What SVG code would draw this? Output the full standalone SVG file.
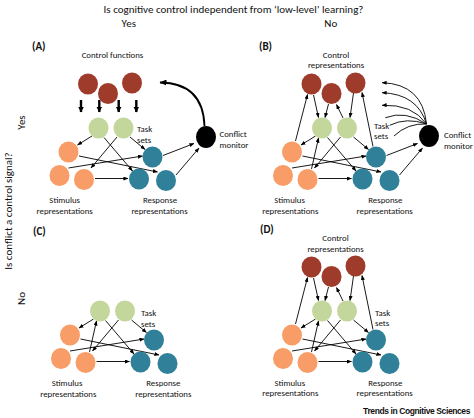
<svg xmlns="http://www.w3.org/2000/svg" width="474" height="418" viewBox="0 0 474 418">
<style>
text{font-family:Carlito,Lato,"Liberation Sans",sans-serif;fill:#111}
.t{font-size:11px}
.l{font-size:8.8px}
.m{text-anchor:middle}
.p{font-size:11px;font-weight:bold}
.br{fill:#9e3b2a}
.gr{fill:#c3d69b}
.or{fill:#f89d68}
.te{fill:#2f8098}
.k{fill:#000}
.c{stroke:#000;stroke-width:0.9;fill:none;marker-end:url(#ah)}
.cn{stroke:#000;stroke-width:0.9;fill:none}
.cb{stroke:#000;stroke-width:2.4;fill:none;marker-end:url(#ahb)}
.cc{stroke:#000;stroke-width:1.8;fill:none;marker-end:url(#ahc)}
</style>
<defs>
<marker id="ah" markerWidth="5" markerHeight="4" refX="4.6" refY="2" orient="auto" markerUnits="userSpaceOnUse"><path d="M0,0 L5,2 L0,4 z" fill="#000"/></marker>
<marker id="ahb" markerWidth="6" markerHeight="6" refX="5.5" refY="3" orient="auto" markerUnits="userSpaceOnUse"><path d="M0,0 L6,3 L0,6 z" fill="#000"/></marker>
<marker id="ahc" markerWidth="7" markerHeight="6" refX="6.5" refY="3" orient="auto" markerUnits="userSpaceOnUse"><path d="M0,0 L7,3 L0,6 z" fill="#000"/></marker>
</defs>
<rect width="474" height="418" fill="#fff"/>

<g id="headers">
<text class="t m" x="233.5" y="12.7">Is cognitive control independent from ‘low-level’ learning?</text>
<text class="t m" x="128.8" y="27.3">Yes</text>
<text class="t m" x="330.8" y="27.3">No</text>
<text class="t m" transform="translate(11.7,211) rotate(-90)">Is conflict a control signal?</text>
<text class="t m" transform="translate(25,122.5) rotate(-90)">Yes</text>
<text class="t m" transform="translate(25,298.5) rotate(-90)">No</text>
<text x="470" y="414" text-anchor="end" style="font-family:'Liberation Sans',sans-serif;font-size:8.5px;font-weight:bold;letter-spacing:-0.4px">Trends in Cognitive Sciences</text>
</g>

<!-- Panel A -->
<g id="panel-A">
<text class="p" x="32" y="50">(A)</text>
<text class="l m" x="112.5" y="58">Control functions</text>
<text class="l" x="137" y="132.3">Task</text>
<text class="l" x="137" y="142.7">sets</text>
<text class="l" x="219.5" y="136.5">Conflict</text>
<text class="l" x="219.5" y="147.5">monitor</text>
<text class="l m" x="64.7" y="202.7">Stimulus</text>
<text class="l m" x="64.7" y="214">representations</text>
<text class="l m" x="160" y="202.7">Response</text>
<text class="l m" x="159.5" y="214">representations</text>
<g id="A-connectors">
<path class="cb" d="M81,100 V112"/>
<path class="cb" d="M99.3,100 V112"/>
<path class="cb" d="M118.7,100 V112"/>
<path class="cb" d="M136.3,100 V112"/>
<path class="c" d="M92,136 L77.5,145"/>
<path class="c" d="M104,137.5 L132.5,171"/>
<path class="c" d="M117,137 L91,168"/>
<path class="c" d="M130,137 L145,149.5"/>
<path class="c" d="M79,156 L157.5,172"/>
<path class="c" d="M68.5,168 L142.5,156"/>
<path class="c" d="M95,178.5 L128,178.5"/>
<path class="c" d="M163,155.5 L194,143.5"/>
<path class="c" d="M176,175 L199,148"/>
<path class="cc" d="M204.5,126 Q203,83 160,82.5"/>
</g>
<g id="A-ctrl1"><ellipse class="br" cx="88" cy="84" rx="10" ry="10.5"/></g>
<g id="A-ctrl2"><ellipse class="br" cx="108" cy="93.5" rx="10" ry="10.5"/></g>
<g id="A-ctrl3"><ellipse class="br" cx="132" cy="83" rx="10" ry="10.5"/></g>
<g id="A-task1"><ellipse class="gr" cx="98.5" cy="128" rx="10" ry="10.5"/></g>
<g id="A-task2"><ellipse class="gr" cx="123.5" cy="128" rx="10" ry="10.5"/></g>
<g id="A-stim1"><ellipse class="or" cx="68.5" cy="152" rx="10" ry="10.5"/></g>
<g id="A-stim2"><ellipse class="or" cx="59.5" cy="175.5" rx="10" ry="10.5"/></g>
<g id="A-stim3"><ellipse class="or" cx="84" cy="179.5" rx="10" ry="10.5"/></g>
<g id="A-resp1"><ellipse class="te" cx="152.5" cy="157" rx="10" ry="10.5"/></g>
<g id="A-resp2"><ellipse class="te" cx="139" cy="179" rx="10" ry="10.5"/></g>
<g id="A-resp3"><ellipse class="te" cx="166" cy="180.5" rx="10" ry="10.5"/></g>
<g id="A-monitor"><ellipse class="k" cx="206" cy="137" rx="10" ry="11"/></g>
</g>

<!-- Panel B -->
<g id="panel-B">
<text class="p" x="259" y="50">(B)</text>
<text class="l m" x="336" y="57.5">Control</text>
<text class="l m" x="336" y="68">representations</text>
<text class="l" x="374" y="129">Task</text>
<text class="l" x="374" y="139.3">sets</text>
<text class="l" x="444" y="137.5">Conflict</text>
<text class="l" x="444" y="148.5">monitor</text>
<text class="l m" x="289.5" y="202.7">Stimulus</text>
<text class="l m" x="290.3" y="214">representations</text>
<text class="l m" x="385.3" y="202.7">Response</text>
<text class="l m" x="384.7" y="214">representations</text>
<g transform="translate(223.5,0)">
<g id="B-connectors">
<path class="c" d="M92,136 L77.5,145"/>
<path class="c" d="M104,137.5 L132.5,171"/>
<path class="c" d="M117,137 L91,168"/>
<path class="c" d="M130,137 L145,149.5"/>
<path class="c" d="M79,156 L157.5,172"/>
<path class="c" d="M68.5,168 L142.5,156"/>
<path class="c" d="M95,178.5 L128,178.5"/>
<path class="c" d="M88,169 L95,138"/>
<path class="c" d="M72,141 L84,94.5"/>
<path class="c" d="M90,95 L95,117.5"/>
<path class="c" d="M105,104 L101.5,117.5"/>
<path class="c" d="M119.5,118 L113,104.5"/>
<path class="c" d="M130,93 L126.5,117.5"/>
<path class="c" d="M149.5,146.5 L138.5,92.5"/>
<path class="c" d="M163,155.5 L194,143.5"/>
<path class="c" d="M176,175 L199,148"/>
<path class="c" d="M203,124 Q199,84 158.5,82.7"/>
<path class="c" d="M203,124 Q194,94 158.5,92.7"/>
<path class="c" d="M203,124 Q189,104 158.5,105.3"/>
<path class="cn" d="M203,124 Q182,110 161.8,117.7"/>
<path class="cn" d="M203,124 Q183,117 166.2,125.3"/>
<path class="cn" d="M203,124 Q184,123 170.5,136"/>
</g>
<g id="B-ctrl1"><ellipse class="br" cx="88" cy="84" rx="10" ry="10.5"/></g>
<g id="B-ctrl2"><ellipse class="br" cx="108" cy="93.5" rx="10" ry="10.5"/></g>
<g id="B-ctrl3"><ellipse class="br" cx="132" cy="83" rx="10" ry="10.5"/></g>
<g id="B-task1"><ellipse class="gr" cx="98.5" cy="128" rx="10" ry="10.5"/></g>
<g id="B-task2"><ellipse class="gr" cx="123.5" cy="128" rx="10" ry="10.5"/></g>
<g id="B-stim1"><ellipse class="or" cx="68.5" cy="152" rx="10" ry="10.5"/></g>
<g id="B-stim2"><ellipse class="or" cx="59.5" cy="175.5" rx="10" ry="10.5"/></g>
<g id="B-stim3"><ellipse class="or" cx="84" cy="179.5" rx="10" ry="10.5"/></g>
<g id="B-resp1"><ellipse class="te" cx="152.5" cy="157" rx="10" ry="10.5"/></g>
<g id="B-resp2"><ellipse class="te" cx="139" cy="179" rx="10" ry="10.5"/></g>
<g id="B-resp3"><ellipse class="te" cx="166" cy="180.5" rx="10" ry="10.5"/></g>
<g id="B-monitor"><ellipse class="k" cx="205.5" cy="136" rx="10" ry="11"/></g>
</g>
</g>

<!-- Panel C -->
<g id="panel-C">
<text class="p" x="33" y="235">(C)</text>
<text class="l" x="141" y="316">Task</text>
<text class="l" x="141" y="327">sets</text>
<text class="l m" x="67" y="386">Stimulus</text>
<text class="l m" x="68.3" y="396.5">representations</text>
<text class="l m" x="163.3" y="386">Response</text>
<text class="l m" x="163.3" y="396.5">representations</text>
<g transform="translate(1.5,183)">
<g id="C-connectors">
<path class="c" d="M92,136 L77.5,145"/>
<path class="c" d="M104,137.5 L132.5,171"/>
<path class="c" d="M117,137 L91,168"/>
<path class="c" d="M130,137 L145,149.5"/>
<path class="c" d="M79,156 L157.5,172"/>
<path class="c" d="M68.5,168 L142.5,156"/>
<path class="c" d="M95,178.5 L128,178.5"/>
<path class="c" d="M88,169 L95,138"/>
</g>
<g id="C-task1"><ellipse class="gr" cx="98.5" cy="128" rx="10" ry="10.5"/></g>
<g id="C-task2"><ellipse class="gr" cx="123.5" cy="128" rx="10" ry="10.5"/></g>
<g id="C-stim1"><ellipse class="or" cx="68.5" cy="152" rx="10" ry="10.5"/></g>
<g id="C-stim2"><ellipse class="or" cx="59.5" cy="175.5" rx="10" ry="10.5"/></g>
<g id="C-stim3"><ellipse class="or" cx="84" cy="179.5" rx="10" ry="10.5"/></g>
<g id="C-resp1"><ellipse class="te" cx="152.5" cy="157" rx="10" ry="10.5"/></g>
<g id="C-resp2"><ellipse class="te" cx="139" cy="179" rx="10" ry="10.5"/></g>
<g id="C-resp3"><ellipse class="te" cx="166" cy="180.5" rx="10" ry="10.5"/></g>
</g>
</g>

<!-- Panel D -->
<g id="panel-D">
<text class="p" x="260" y="233">(D)</text>
<text class="l m" x="335.5" y="241">Control</text>
<text class="l m" x="335.5" y="251.5">representations</text>
<text class="l" x="375" y="315.7">Task</text>
<text class="l" x="375" y="326">sets</text>
<text class="l m" x="289.8" y="386">Stimulus</text>
<text class="l m" x="290.3" y="396">representations</text>
<text class="l m" x="385.3" y="386">Response</text>
<text class="l m" x="384.7" y="396">representations</text>
<g transform="translate(223.5,183)">
<g id="D-connectors">
<path class="c" d="M92,136 L77.5,145"/>
<path class="c" d="M104,137.5 L132.5,171"/>
<path class="c" d="M117,137 L91,168"/>
<path class="c" d="M130,137 L145,149.5"/>
<path class="c" d="M79,156 L157.5,172"/>
<path class="c" d="M68.5,168 L142.5,156"/>
<path class="c" d="M95,178.5 L128,178.5"/>
<path class="c" d="M88,169 L95,138"/>
<path class="c" d="M72,141 L84,94.5"/>
<path class="c" d="M90,95 L95,117.5"/>
<path class="c" d="M105,104 L101.5,117.5"/>
<path class="c" d="M119.5,118 L113,104.5"/>
<path class="c" d="M130,93 L126.5,117.5"/>
<path class="c" d="M149.5,146.5 L138.5,92.5"/>
</g>
<g id="D-ctrl1"><ellipse class="br" cx="88" cy="84" rx="10" ry="10.5"/></g>
<g id="D-ctrl2"><ellipse class="br" cx="108" cy="93.5" rx="10" ry="10.5"/></g>
<g id="D-ctrl3"><ellipse class="br" cx="132" cy="83" rx="10" ry="10.5"/></g>
<g id="D-task1"><ellipse class="gr" cx="98.5" cy="128" rx="10" ry="10.5"/></g>
<g id="D-task2"><ellipse class="gr" cx="123.5" cy="128" rx="10" ry="10.5"/></g>
<g id="D-stim1"><ellipse class="or" cx="68.5" cy="152" rx="10" ry="10.5"/></g>
<g id="D-stim2"><ellipse class="or" cx="59.5" cy="175.5" rx="10" ry="10.5"/></g>
<g id="D-stim3"><ellipse class="or" cx="84" cy="179.5" rx="10" ry="10.5"/></g>
<g id="D-resp1"><ellipse class="te" cx="152.5" cy="157" rx="10" ry="10.5"/></g>
<g id="D-resp2"><ellipse class="te" cx="139" cy="179" rx="10" ry="10.5"/></g>
<g id="D-resp3"><ellipse class="te" cx="166" cy="180.5" rx="10" ry="10.5"/></g>
</g>
</g>
</svg>
